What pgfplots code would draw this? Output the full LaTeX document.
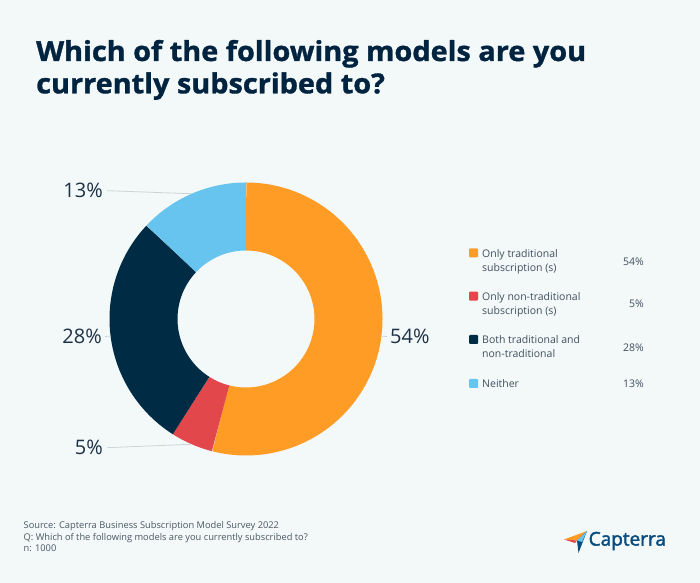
\documentclass[border=0pt]{standalone}
\usepackage{fontspec}
\usepackage{pgfplots}
\usepackage{pgfplotstable}
\pgfplotsset{compat=1.18}
\setmainfont{Open Sans}
\newfontfamily\logofont{Open Sans}[FakeBold=2]
\newfontfamily\titlefont{Open Sans}[FakeStretch=1.05, FakeBold=1.2]

\definecolor{bg}{HTML}{F3F8F9}
\definecolor{titlecol}{HTML}{00233F}
\definecolor{labelcol}{HTML}{1E3246}
\definecolor{legcol}{HTML}{41505E}
\definecolor{footcol}{HTML}{4A5763}
\definecolor{leadcol}{HTML}{CDD4D8}
\definecolor{seg0}{HTML}{FF9C26}
\definecolor{seg1}{HTML}{E2474B}
\definecolor{seg2}{HTML}{002B45}
\definecolor{seg3}{HTML}{67C4EE}
\definecolor{logonavy}{HTML}{084C7F}

% share of respondents, leader end point and label position (relative to the centre)
\pgfplotstableread{
value lx    ly     tx   anc
54    141   -17.5  144  west
5     -139  -128.7 -143 east
28    -141  -17.5  -144 east
13    -139  128.3  -143 east
}\donutdata

\begin{document}
\begin{tikzpicture}[x=1bp,y=1bp,
  leader/.style={draw=leadcol, line width=0.8bp},
  pctlabel/.style={text=labelcol, inner sep=0pt, font=\fontsize{20bp}{24bp}\selectfont},
]
\fill[bg] (0,0) rectangle (700,583);

% title
\node[anchor=base west, inner sep=0pt, text=titlecol, font=\titlefont\fontsize{27.5bp}{32bp}\selectfont\bfseries]
  at (36,522) {Which of the following models are you};
\node[anchor=base west, inner sep=0pt, text=titlecol, font=\titlefont\fontsize{27.5bp}{32bp}\selectfont\bfseries]
  at (36,489.7) {currently subscribed to?};

\begin{axis}[
  at={(246bp,264bp)}, anchor=center,
  x=1bp, y=1bp,
  xmin=-150, xmax=150, ymin=-150, ymax=150,
  hide axis, clip=false,
]
\pgfmathsetmacro\angstart{90}
\pgfplotsforeachungrouped \i in {0,1,2,3}{%
  \pgfplotstablegetelem{\i}{value}\of\donutdata \let\val\pgfplotsretval
  \pgfplotstablegetelem{\i}{lx}\of\donutdata \let\lx\pgfplotsretval
  \pgfplotstablegetelem{\i}{ly}\of\donutdata \let\ly\pgfplotsretval
  \pgfplotstablegetelem{\i}{tx}\of\donutdata \let\tx\pgfplotsretval
  \pgfplotstablegetelem{\i}{anc}\of\donutdata \let\anc\pgfplotsretval
  \pgfmathsetmacro\angend{\angstart-3.6*\val}
  \pgfmathsetmacro\angmid{(\angstart+\angend)/2}
  \pgfmathsetmacro\ex{136.5*cos(\angmid)}
  \pgfmathsetmacro\ey{136.5*sin(\angmid)}
  \edef\doseg{%
    \noexpand\addplot[draw=seg\i, line width=68bp, no markers,
      domain=\angend:\angstart, samples=150]
      ({102.5*cos(x)},{102.5*sin(x)});
    \noexpand\addplot[leader, no markers] coordinates {(\ex,\ey) (\lx,\ly)};
    \noexpand\node[pctlabel, anchor=\anc] at (axis cs:\tx,\ly) {\val\noexpand\%};
  }%
  \doseg
  \global\let\angstart\angend
}
\end{axis}

% legend
\begin{scope}[every node/.style={inner sep=0pt, text=legcol, font=\fontsize{10.5bp}{14bp}\selectfont}]
  \fill[seg0, rounded corners=1bp] (469,325.7) rectangle (478,334.7);
  \node[anchor=base west] at (482,325) {Only traditional};
  \node[anchor=base west] at (482,311.3) {subscription (s)};
  \node[anchor=base east] at (644,317.3) {54\%};

  \fill[seg1, rounded corners=1bp] (469,282.3) rectangle (478,291.3);
  \node[anchor=base west] at (482,282) {Only non-traditional};
  \node[anchor=base west] at (482,268) {subscription (s)};
  \node[anchor=base east] at (644,275) {5\%};

  \fill[seg2, rounded corners=1bp] (469,239) rectangle (478,248);
  \node[anchor=base west] at (482,239) {Both traditional and};
  \node[anchor=base west] at (482,225) {non-traditional};
  \node[anchor=base east] at (644,231.7) {28\%};

  \fill[seg3, rounded corners=1bp] (469,195) rectangle (478,204);
  \node[anchor=base west] at (482,195.7) {Neither};
  \node[anchor=base east] at (644,195.7) {13\%};
\end{scope}

% footer
\begin{scope}[every node/.style={inner sep=0pt, anchor=base west, text=footcol, font=\fontsize{9.3bp}{11bp}\selectfont}]
  \node at (23.5,54) {Source: Capterra Business Subscription Model Survey 2022};
  \node at (23.5,42.7) {Q: Which of the following models are you currently subscribed to?};
  \node at (23.5,31.5) {n: 1000};
\end{scope}

% logo
\fill[seg0] (564,43.5) -- (587,52) -- (577,42.5) -- cycle;
\fill[seg1] (564,43.5) -- (577,42.5) -- (575,40) -- cycle;
\fill[logonavy] (577,42.5) -- (587,52) -- (578.5,30) -- cycle;
\fill[seg3] (577,42.5) -- (587,52) -- (582,41) -- cycle;
\node[anchor=west, inner sep=0pt, text=logonavy, font=\logofont\fontsize{19bp}{22bp}\selectfont] at (588.5,42) {Capterra};
\end{tikzpicture}
\end{document}
